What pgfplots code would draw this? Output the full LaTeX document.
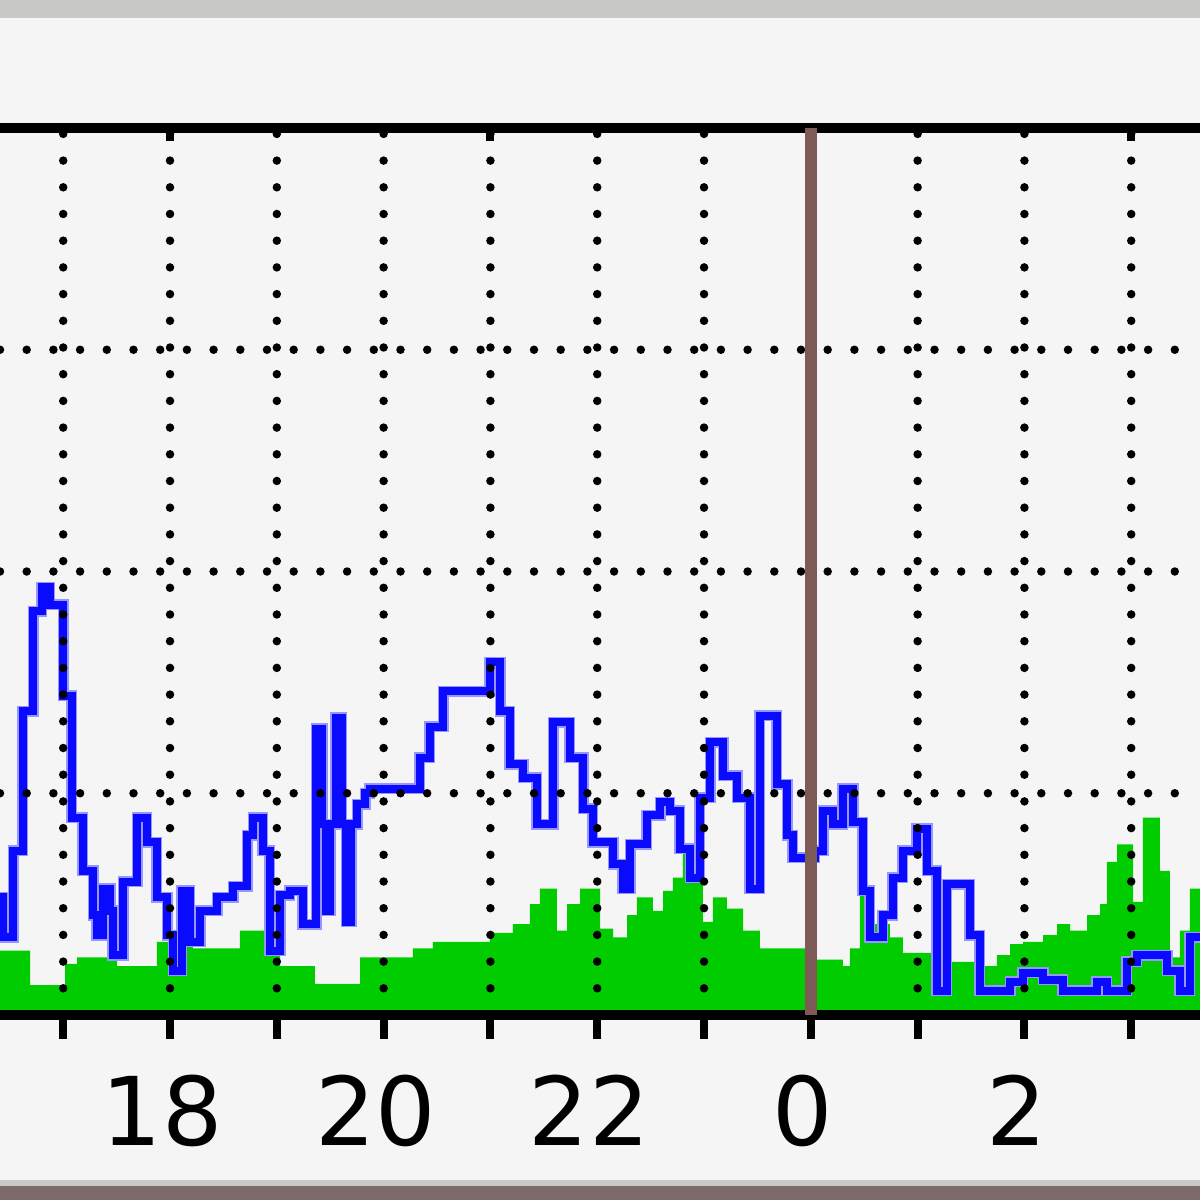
\documentclass[border=0pt]{standalone}
\usepackage{pgfplots}
\pgfplotsset{compat=1.18}
\usepackage{pgfplotstable}
\usepackage{fontspec}
\newfontfamily\labfont{DejaVu Sans}
\definecolor{bg}{RGB}{245,245,245}
\definecolor{topgray}{RGB}{200,200,196}
\definecolor{botlight}{RGB}{200,200,200}
\definecolor{botdark}{RGB}{125,105,105}
\definecolor{mgreen}{RGB}{0,204,0}
\definecolor{mblue}{RGB}{10,10,255}
\definecolor{mbluehalo}{RGB}{150,150,255}
\definecolor{brownline}{RGB}{125,90,85}

\pgfplotstableread{
h v
16.408 0.53
16.436 0.35
16.530 0.74
16.623 1.37
16.717 1.82
16.801 1.93
16.876 1.85
16.998 1.44
17.082 0.89
17.185 0.65
17.279 0.45
17.316 0.36
17.372 0.57
17.438 0.47
17.466 0.27
17.560 0.60
17.691 0.89
17.784 0.78
17.878 0.53
17.972 0.36
18.028 0.20
18.112 0.56
18.187 0.33
18.281 0.47
18.440 0.53
18.590 0.58
18.721 0.81
18.777 0.89
18.870 0.74
18.936 0.29
19.030 0.54
19.123 0.56
19.245 0.41
19.367 1.29
19.423 0.86
19.460 0.47
19.498 0.86
19.554 1.34
19.610 0.86
19.648 0.42
19.695 0.86
19.751 0.95
19.826 1.00
19.872 1.02
20.340 1.16
20.434 1.30
20.556 1.46
20.996 1.59
21.090 1.37
21.183 1.13
21.305 1.07
21.436 0.86
21.586 1.32
21.745 1.16
21.867 0.93
21.960 0.78
22.148 0.68
22.241 0.57
22.307 0.77
22.466 0.90
22.588 0.96
22.681 0.92
22.775 0.75
22.869 0.62
22.962 0.98
23.056 1.23
23.178 1.08
23.309 0.98
23.430 0.57
23.524 1.35
23.683 1.04
23.777 0.81
23.833 0.71
24.039 0.74
24.114 0.92
24.207 0.86
24.301 1.02
24.395 0.87
24.488 0.56
24.554 0.35
24.675 0.45
24.769 0.62
24.863 0.74
24.994 0.84
25.088 0.65
25.181 0.11
25.275 0.59
25.490 0.36
25.584 0.11
25.865 0.15
25.986 0.19
26.174 0.16
26.361 0.11
26.679 0.15
26.773 0.11
26.960 0.24
27.054 0.27
27.335 0.20
27.456 0.11
27.550 0.35
27.644 0.35
}\bluedata

\pgfplotstableread{
h v
16.408 0.29
16.689 0.135
17.017 0.23
17.129 0.26
17.503 0.22
17.878 0.33
18.112 0.37
18.215 0.30
18.655 0.38
18.908 0.29
19.030 0.22
19.357 0.14
19.779 0.26
20.275 0.30
20.462 0.33
20.996 0.37
21.211 0.41
21.370 0.50
21.464 0.57
21.623 0.38
21.717 0.50
21.839 0.57
22.026 0.39
22.148 0.35
22.279 0.45
22.372 0.53
22.522 0.47
22.616 0.56
22.709 0.62
22.803 0.77
22.897 0.60
22.990 0.42
23.084 0.53
23.215 0.48
23.365 0.38
23.524 0.30
23.992 0.25
24.301 0.22
24.366 0.30
24.460 0.54
24.554 0.41
24.741 0.35
24.863 0.28
25.181 0.24
25.612 0.22
25.743 0.27
25.865 0.32
25.986 0.33
26.174 0.36
26.305 0.41
26.427 0.38
26.586 0.45
26.708 0.50
26.773 0.69
26.867 0.77
27.017 0.51
27.110 0.89
27.269 0.65
27.363 0.26
27.456 0.38
27.550 0.57
27.644 0.57
}\greendata

\begin{document}
\begin{tikzpicture}
\path[use as bounding box] (0,0) rectangle (12cm,12cm);
\fill[bg] (0,0) rectangle (12cm,12cm);
\fill[topgray] (0,11.82cm) rectangle (12cm,12cm);
\fill[botlight] (0,0.14cm) rectangle (12cm,0.2cm);
\fill[botdark] (0,0) rectangle (12cm,0.14cm);
\begin{axis}[
  at={(0,1.85cm)}, anchor=south west,
  scale only axis, width=12cm, height=8.87cm,
  xmin=16.408, xmax=27.644, ymin=0, ymax=4,
  axis on top,
  separate axis lines,
  x axis line style={black, line width=1.0mm},
  y axis line style={draw=none},
  xtick={17,18,19,20,21,22,23,25,26,27},
  xticklabels={,18,,20,,22,,,2,},
  ytick={1,2,3}, yticklabels={}, ytick style={draw=none},
  xtick pos=bottom,
  tick align=outside, major tick length=2.4mm,
  xtick style={black, line width=0.8mm},
  grid=major,
  major grid style={black, line width=0.85mm, line cap=round, dash pattern=on 0pt off 2.67mm},
  extra x ticks={24}, extra x tick labels={0},
  extra x tick style={major grid style={brownline, line width=1.15mm, solid, line cap=butt}},
  xticklabel style={font=\fontsize{27}{27}\selectfont\labfont, anchor=base, yshift=-10.6mm, xshift=-0.8mm},
]
\addplot[const plot, fill=mgreen, draw=none] table[x=h, y=v] {\greendata} \closedcycle;
\addplot[const plot, draw=mbluehalo, line width=1.1mm] table[x=h, y=v] {\bluedata};
\addplot[const plot, draw=mblue, line width=0.8mm] table[x=h, y=v] {\bluedata};
\draw[black, line width=0.8mm] (axis cs:18,4) -- ([yshift=-1.3mm]axis cs:18,4);
\draw[black, line width=0.8mm] (axis cs:21,4) -- ([yshift=-1.3mm]axis cs:21,4);
\draw[black, line width=0.8mm] (axis cs:27,4) -- ([yshift=-1.3mm]axis cs:27,4);
\end{axis}
\end{tikzpicture}
\end{document}
